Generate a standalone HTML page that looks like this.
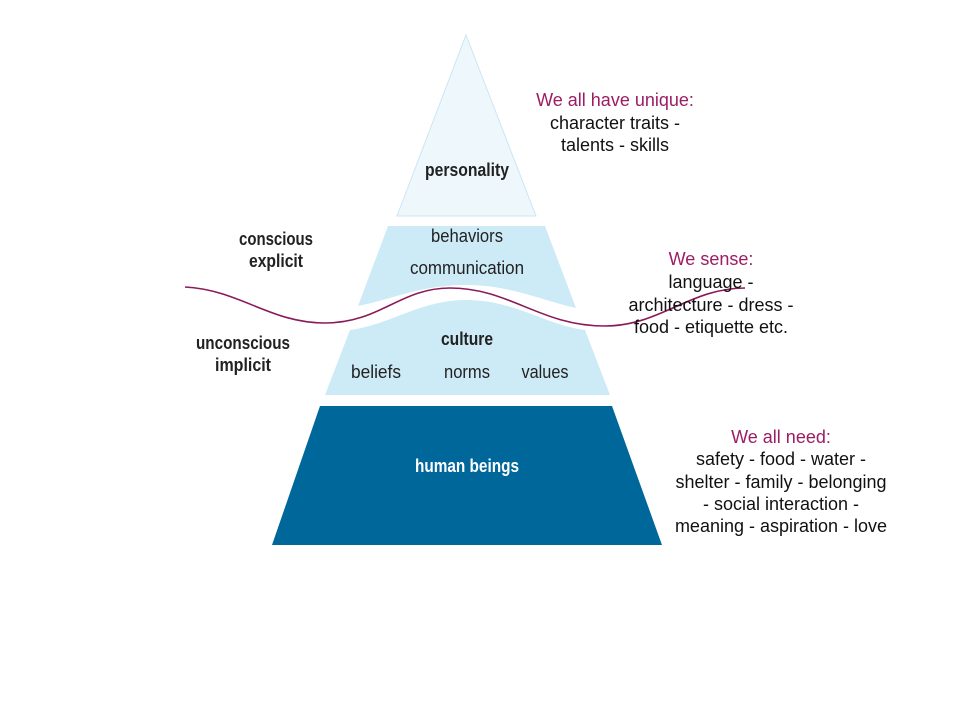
<!DOCTYPE html>
<html><head><meta charset="utf-8"><style>
html,body{margin:0;padding:0;background:#fff;}
svg{display:block}
.n{font-family:"Liberation Sans Narrow","Liberation Sans",sans-serif;font-size:18px;fill:#222;}
.b{font-weight:bold;}
.r{font-family:"Liberation Sans",sans-serif;font-size:18px;fill:#111;}
.m{fill:#9c1d63;}
</style></head><body>
<svg width="960" height="720" viewBox="0 0 960 720">
<polygon points="466,35 536,216 397,216" fill="#eef8fc" stroke="#cbe6f2" stroke-width="1"/>
<path d="M388,226 L545,226 L576,308 C540,300 510,285 466,285 C420,285 390,300 358,306 Z" fill="#cdeaf7"/>
<path d="M350,330 C390,325 420,300 466,300 C515,300 545,325 585,330 L610,395 L325,395 Z" fill="#cdeaf7"/>
<polygon points="320,406 612,406 662,545 272,545" fill="#00679b"/>
<path d="M185,287 C240,290 270,323 325,323 C380,323 400,288 450,288 C510,288 540,326 605,326 C660,326 690,288 745,288" fill="none" stroke="#8b1a5a" stroke-width="1.6"/>
<text class="n b" x="467" y="176" text-anchor="middle" textLength="84" lengthAdjust="spacingAndGlyphs">personality</text>
<text class="n" x="467" y="242" text-anchor="middle" textLength="72" lengthAdjust="spacingAndGlyphs">behaviors</text>
<text class="n" x="467" y="274" text-anchor="middle" textLength="114" lengthAdjust="spacingAndGlyphs">communication</text>
<text class="n b" x="467" y="345" text-anchor="middle" textLength="52" lengthAdjust="spacingAndGlyphs">culture</text>
<text class="n" x="376" y="378" text-anchor="middle" textLength="50" lengthAdjust="spacingAndGlyphs">beliefs</text>
<text class="n" x="467" y="378" text-anchor="middle" textLength="46" lengthAdjust="spacingAndGlyphs">norms</text>
<text class="n" x="545" y="378" text-anchor="middle" textLength="47" lengthAdjust="spacingAndGlyphs">values</text>
<text class="n b" x="467" y="472" text-anchor="middle" style="fill:#fff" textLength="104" lengthAdjust="spacingAndGlyphs">human beings</text>
<text class="n b" x="276" y="245" text-anchor="middle" textLength="74" lengthAdjust="spacingAndGlyphs">conscious</text>
<text class="n b" x="276" y="267" text-anchor="middle" textLength="54" lengthAdjust="spacingAndGlyphs">explicit</text>
<text class="n b" x="243" y="349" text-anchor="middle" textLength="94" lengthAdjust="spacingAndGlyphs">unconscious</text>
<text class="n b" x="243" y="371" text-anchor="middle" textLength="56" lengthAdjust="spacingAndGlyphs">implicit</text>
<text class="r m" x="615" y="106" text-anchor="middle">We all have unique:</text>
<text class="r" x="615" y="129" text-anchor="middle">character traits -</text>
<text class="r" x="615" y="151" text-anchor="middle">talents - skills</text>
<text class="r m" x="711" y="265" text-anchor="middle">We sense:</text>
<text class="r" x="711" y="288" text-anchor="middle">language -</text>
<text class="r" x="711" y="311" text-anchor="middle">architecture - dress -</text>
<text class="r" x="711" y="333" text-anchor="middle">food - etiquette etc.</text>
<text class="r m" x="781" y="443" text-anchor="middle">We all need:</text>
<text class="r" x="781" y="465" text-anchor="middle">safety - food - water -</text>
<text class="r" x="781" y="488" text-anchor="middle">shelter - family - belonging</text>
<text class="r" x="781" y="510" text-anchor="middle">- social interaction -</text>
<text class="r" x="781" y="532" text-anchor="middle">meaning - aspiration - love</text>
</svg>
</body></html>
